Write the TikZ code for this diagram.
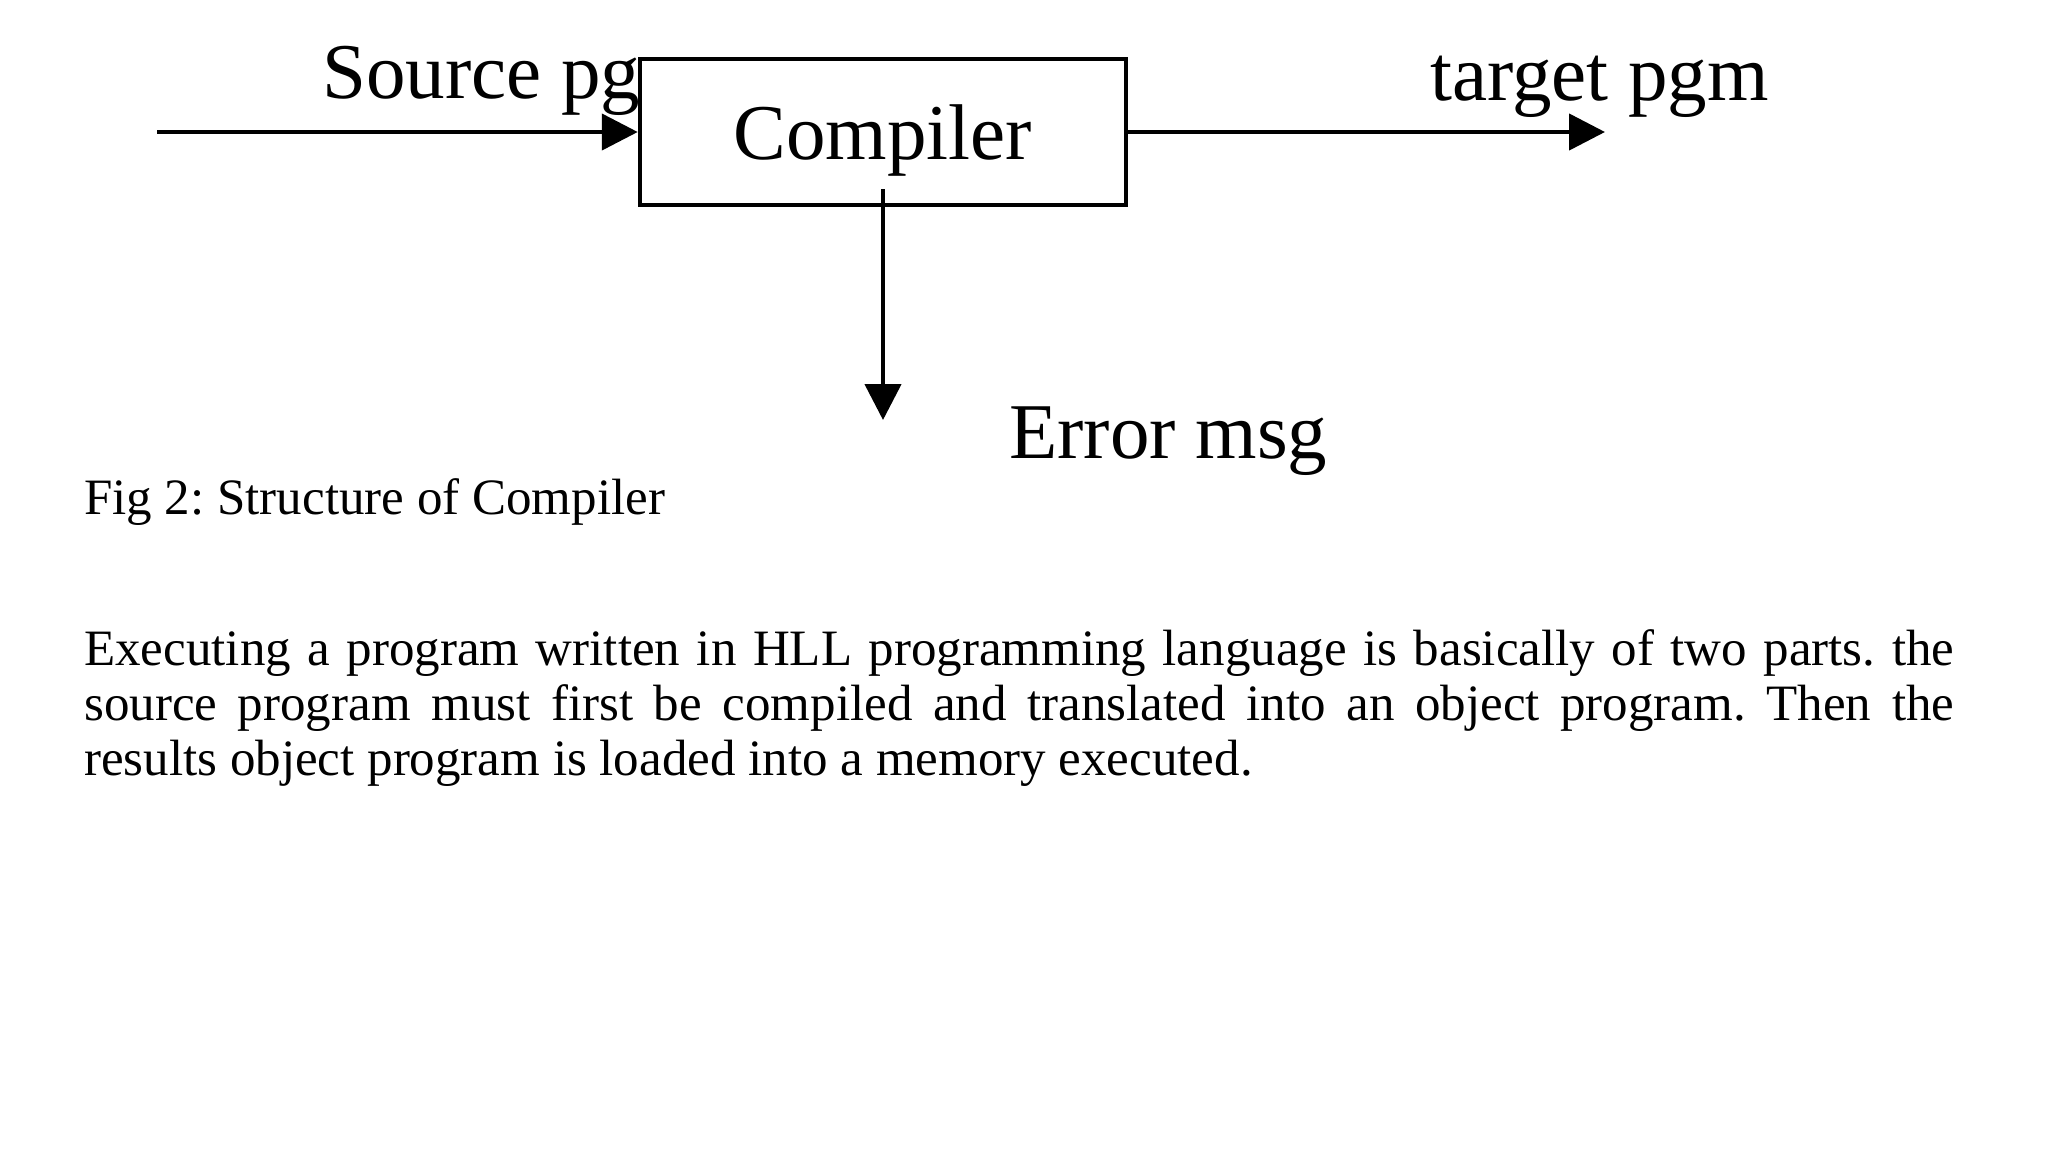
\documentclass[tikz,border=0pt]{standalone}
\usepackage{fontspec}
\setmainfont{Liberation Serif}
\usetikzlibrary{positioning,arrows.meta}
\newcommand\nohyph{\frenchspacing\hyphenpenalty=10000 \tolerance=10000 }

\begin{document}
\begin{tikzpicture}[x=1pt,y=-1pt,box/.style={draw,line width=4.5pt,fill=white,minimum width=486pt,minimum height=146pt,text depth=0pt,font=\fontsize{79}{79}\selectfont},lbl/.style={anchor=base west,inner sep=0pt,font=\fontsize{79}{79}\selectfont},line/.style={-{Triangle[length=36pt,width=36pt]},line width=4.5pt},body/.style={anchor=base west,inner sep=0pt,font=\fontsize{51}{55}\selectfont\nohyph}]
\useasboundingbox[fill=white] (0,0) rectangle (2048,1152);
\node[lbl] (src) at (322,98) {Source pg};
\node[box] (cmp) at (883,132) {Compiler};
\node[lbl] (tgt) at (1430,100) {target pgm};
\node[lbl] (err) at (1009,458) {Error msg};
\coordinate (in) at (157,132);\coordinate (out) at (1605,132);\coordinate (dn) at (883,420);
\draw[line] (in)--(cmp.west);\draw[line] (cmp.east)--(out);\draw[line] ([yshift=18pt]cmp.south)--(dn);
\node[body] (cap) at (84,514) {Fig 2: Structure of Compiler};
\node[body,text width=1870pt,align=justify] (txt) at (84,665) {Executing a program written in HLL programming language is basically of two parts. the source program must first be compiled and translated into an object program. Then the\linebreak{} results object program is loaded into a memory executed.};
\end{tikzpicture}
\end{document}
